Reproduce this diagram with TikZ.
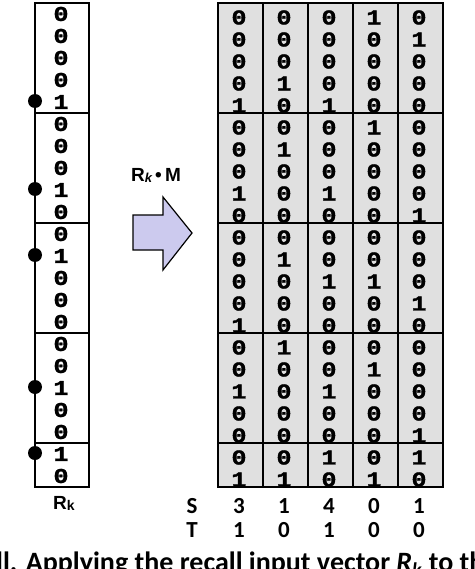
\documentclass[tikz,border=0pt]{standalone}
\usepackage{fontspec}
\setmainfont{Carlito}
\newfontfamily\digitfont[FakeBold=1.6, FakeStretch=1.2]{Liberation Mono Bold}
\newfontfamily\labelfont{Liberation Sans}
\usepackage{xcolor}
\definecolor{cellgray}{gray}{0.88}
\definecolor{arrowfill}{RGB}{204,202,238}

\begin{document}
\begin{tikzpicture}[
    x=1pt, y=-1pt,
    bitbox/.style={draw, line width=1.5pt},
    cellbox/.style={draw, line width=2pt, fill=cellgray},
    bit/.style={inner sep=0pt, font=\digitfont\fontsize{21}{21}\selectfont},
    hitdot/.style={circle, fill=black, inner sep=0pt, minimum size=14pt},
    sumlabel/.style={inner sep=0pt, font=\bfseries\fontsize{23}{23}\selectfont},
    veclabel/.style={inner sep=0pt, font=\labelfont\bfseries\fontsize{19}{19}\selectfont}
]
\useasboundingbox (0,0) rectangle (474,569);

% Input vector Rk
\foreach \g/\h in {3/113,113/223,223/333,333/443,443/487}
    \draw[bitbox] (35,\g) rectangle (89,\h);
\foreach \b [count=\r] in {0,0,0,0,1,0,0,0,1,0,0,1,0,0,0,0,0,1,0,0,1,0} {
    \node[bit] (rk-\r) at (61,22*\r-8) {\b};
    \ifnum\b=1 \node[hitdot] (hit-\r) at (35,22*\r-9) {}; \fi
}
\node[veclabel] (rklabel) at (64,503) {R\raisebox{-1pt}{\fontsize{14}{14}\selectfont k}};

% Arrow
\node[veclabel] (prodlabel) at (156,175) {R\raisebox{-1pt}{\fontsize{13}{13}\selectfont\itshape k}\,•\,M};
\draw[line width=1.2pt, fill=arrowfill] (133,215) -- (163,215) -- (163,197) -- (192,233)
    -- (163,270) -- (163,250) -- (133,250) -- cycle;

% Memory matrix M
\foreach \c in {0,...,4}
    \foreach \g/\h in {3/113,113/223,223/333,333/443,443/487}
        \draw[cellbox] (218+45*\c,\g) rectangle (263+45*\c,\h);
\foreach \row [count=\r] in {
    {0,0,0,1,0},{0,0,0,0,1},{0,0,0,0,0},{0,1,0,0,0},{1,0,1,0,0},
    {0,0,0,1,0},{0,1,0,0,0},{0,0,0,0,0},{1,0,1,0,0},{0,0,0,0,1},
    {0,0,0,0,0},{0,1,0,0,0},{0,0,1,1,0},{0,0,0,0,1},{1,0,0,0,0},
    {0,1,0,0,0},{0,0,0,1,0},{1,0,1,0,0},{0,0,0,0,0},{0,0,0,0,1},
    {0,0,1,0,1},{1,1,0,1,0}}
    \foreach \b [count=\c] in \row
        \node[bit] (m-\r-\c) at (194+45*\c,22*\r-4.5) {\b};

% Sums and thresholds
\node[sumlabel] (slabel) at (192,506) {S};
\node[sumlabel] (tlabel) at (192,530) {T};
\foreach \s/\t [count=\c] in {3/1,1/0,4/1,0/0,1/0} {
    \node[sumlabel] (s-\c) at (194+45*\c,506) {\s};
    \node[sumlabel] (t-\c) at (194+45*\c,530) {\t};
}

% Caption (cut off)
\node[anchor=base west, inner sep=0pt, font=\bfseries\fontsize{28}{28}\selectfont] (caption) at (-4,571)
    {ll. Applying the recall input vector \textit{R}\textsubscript{\textit{k}} to th};

\end{tikzpicture}
\end{document}
